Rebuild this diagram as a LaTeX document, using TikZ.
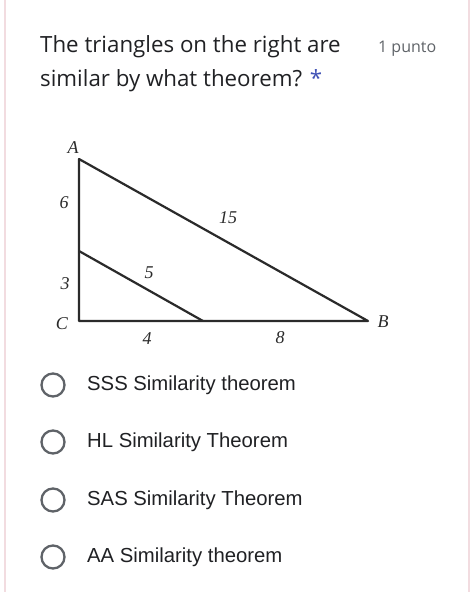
\documentclass[tikz,border=0pt]{standalone}
\usepackage{fontspec}
\setmainfont{Liberation Sans}
\newfontfamily\titlefont{Open Sans}
\newfontfamily\optfont{Liberation Sans}
\newfontfamily\geofont{Liberation Serif}
\definecolor{cardline}{HTML}{F2DCE0}
\definecolor{gtext}{HTML}{202124}
\definecolor{ggray}{HTML}{5F6368}
\definecolor{gblue}{HTML}{3F51B5}
\definecolor{edge}{HTML}{2A2A2A}
\begin{document}
\begin{tikzpicture}[x=1pt,y=-1pt,
  titletext/.style={inner sep=0pt,anchor=base west,text=gtext,font=\titlefont\fontsize{22.3}{26}\selectfont},
  opttext/.style={inner sep=0pt,anchor=west,text=gtext,font=\optfont\fontsize{20.3}{24}\selectfont},
  radio/.style={circle,draw=ggray,line width=2.3pt,minimum size=23pt,inner sep=0pt},
  geoedge/.style={draw=edge,line width=2.2pt,line cap=round,line join=round},
  geolabel/.style={inner sep=0pt,text=edge,font=\geofont\itshape\fontsize{18}{20}\selectfont}]
\useasboundingbox (0,0) rectangle (474,592);
\fill[white] (0,0) rectangle (474,592);
\draw[cardline,line width=1.5pt] (5,0) -- (5,592);
\draw[cardline,line width=1.5pt] (469,0) -- (469,592);
% title
\node[titletext] (t1) at (40,52) {The triangles on the right are};
\node[titletext] (t2) at (40,86) {similar by what theorem? \textcolor{gblue}{*}};
\node[inner sep=0pt,anchor=base west,text=ggray,font=\titlefont\fontsize{16}{19}\selectfont] (pts) at (378,52) {1 punto};
% triangle
\coordinate (A) at (79,159);
\coordinate (C) at (79,321);
\coordinate (B) at (368,321);
\coordinate (M) at (79,251);
\coordinate (N) at (203,321);
\draw[geoedge] (A) -- (C) -- (B) -- cycle;
\draw[geoedge] (M) -- (N);
\node[geolabel] (lA) at (73,148) {A};
\node[geolabel] (lB) at (383,322) {B};
\node[geolabel] (lC) at (62,324) {C};
\node[geolabel] (l6) at (64,203) {6};
\node[geolabel] (l3) at (65,284) {3};
\node[geolabel] (l15) at (228,218) {15};
\node[geolabel] (l5) at (149,273) {5};
\node[geolabel] (l4) at (147,339) {4};
\node[geolabel] (l8) at (280,338) {8};
% options
\node[radio] (r1) at (53,385) {};
\node[radio] (r2) at (53,442) {};
\node[radio] (r3) at (53,500) {};
\node[radio] (r4) at (53,557) {};
\node[opttext] (o1) at (87,385) {SSS Similarity theorem};
\node[opttext] (o2) at (87,442) {HL Similarity Theorem};
\node[opttext] (o3) at (87,500) {SAS Similarity Theorem};
\node[opttext] (o4) at (87,557) {AA Similarity theorem};
\end{tikzpicture}
\end{document}
